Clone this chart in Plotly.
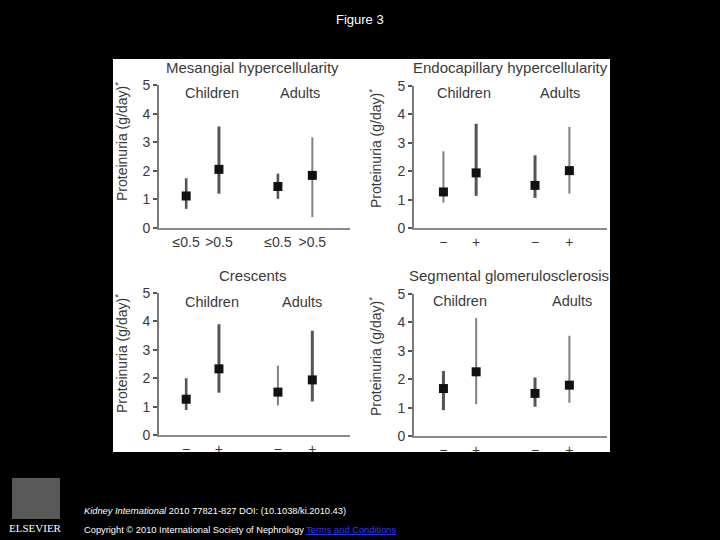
import plotly.graph_objects as go

W, H = 720, 540

# ---- data ----
groups = ["Children", "Children", "Adults", "Adults"]
panel_titles = ["Mesangial hypercellularity", "Endocapillary hypercellularity",
                "Crescents", "Segmental glomerulosclerosis"]
tick_labels = [["≤0.5", ">0.5", "≤0.5", ">0.5"],
               ["−", "+", "−", "+"],
               ["−", "+", "−", "+"],
               ["−", "+", "−", "+"]]
medians = [[1.12, 2.05, 1.45, 1.84],
           [1.27, 1.94, 1.50, 2.02],
           [1.26, 2.33, 1.51, 1.94],
           [1.67, 2.26, 1.50, 1.79]]
lows = [[0.67, 1.20, 1.02, 0.38],
        [0.89, 1.13, 1.06, 1.21],
        [0.88, 1.49, 1.04, 1.18],
        [0.91, 1.12, 1.03, 1.17]]
highs = [[1.74, 3.55, 1.90, 3.17],
         [2.70, 3.67, 2.56, 3.56],
         [2.00, 3.90, 2.44, 3.67],
         [2.29, 4.15, 2.06, 3.53]]
y_ticks = [0, 1, 2, 3, 4, 5]
y_title = "Proteinuria (g/day)<sup>*</sup>"

# ---- layout / style (pixel positions) ----
def fx(p):
    return p / W

def fy(p):
    return 1 - p / H

x_pos = [1, 2, 3.8, 4.85]
# (x0, x1, y_bottom, y_top) in pixels for each panel's axes
boxes = [(159, 350, 228, 85), (414, 607, 228, 86),
         (159, 350, 435, 293), (414, 607, 436, 294)]
x_ranges = [[0.17, 6.0], [0.1, 6.0], [0.17, 6.0], [0.1, 6.0]]
title_pos = [(253, 67), (510, 67), (253, 275), (509, 275)]
group_pos = [[(212, 93), (300, 93)], [(464, 93), (560, 93)],
             [(212, 302), (302, 302)], [(460, 301), (572, 301)]]
ytitle_pos = [(121, 142), (375, 149), (121, 354), (375, 357)]
# whisker look per point (thick dark vs thin light, as in the scan)
whisk_thick = [[2.6, 3.0, 2.6, 2.0], [2.0, 3.0, 3.0, 2.0],
               [2.6, 3.0, 2.0, 3.0], [3.0, 2.0, 3.0, 2.0]]

fig = go.Figure()
layout = {}
annotations = []
txt = "#3a3a3a"
font_fam = "Liberation Sans, Arial, sans-serif"


def note(text, px, py, size=14, color=txt, family=font_fam, **kw):
    d = dict(text=text, x=fx(px), y=fy(py), xref="paper", yref="paper",
             showarrow=False, xanchor="center", yanchor="middle",
             font=dict(size=size, color=color, family=family))
    d.update(kw)
    annotations.append(d)


for i in range(4):
    sx = "" if i == 0 else str(i + 1)
    for j in range(4):
        m = medians[i][j]
        t = whisk_thick[i][j]
        fig.add_trace(go.Scatter(
            x=[x_pos[j]], y=[m], mode="markers",
            xaxis="x" + sx, yaxis="y" + sx,
            marker=dict(symbol="square", size=9, color="#111111"),
            error_y=dict(type="data", symmetric=False,
                         array=[highs[i][j] - m],
                         arrayminus=[m - lows[i][j]],
                         color="#555555" if t >= 2.6 else "#808080",
                         thickness=t, width=0),
            showlegend=False, hoverinfo="skip"))
    x0, x1, yb, yt = boxes[i]
    layout["xaxis" + sx] = dict(
        domain=[fx(x0), fx(x1)], range=x_ranges[i], anchor="y" + sx,
        showgrid=False, zeroline=False, showline=True, linecolor="#8a8a8a",
        linewidth=2, ticks="", tickvals=x_pos, ticktext=tick_labels[i],
        tickfont=dict(size=14, color=txt, family=font_fam), fixedrange=True,
        automargin=False)
    layout["yaxis" + sx] = dict(
        domain=[fy(yb), fy(yt)], range=[0, 5], anchor="x" + sx,
        showgrid=False, zeroline=False, showline=True, linecolor="#7a7a7a",
        linewidth=2, ticks="outside", ticklen=4, tickwidth=1.5,
        tickcolor="#555555", tickvals=y_ticks,
        tickfont=dict(size=14, color=txt, family=font_fam), fixedrange=True,
        automargin=False)
    note(panel_titles[i], *title_pos[i], size=15)
    for g, (gx, gy) in zip(["Children", "Adults"], group_pos[i]):
        note(g, gx, gy, size=14.5)
    note(y_title, *ytitle_pos[i], textangle=-90)

# page texts
note("Figure 3", 360, 19, size=13, color="white")
note("<i>Kidney International</i> 2010 77821-827 DOI: (10.1038/ki.2010.43)",
     82, 511, size=9.3, color="white", xanchor="left")
note("Copyright © 2010 International Society of Nephrology "
     "<span style='color:#2a3cff'><u>Terms and Conditions</u></span>",
     82, 530, size=9.3, color="white", xanchor="left")
note("ELSEVIER", 35, 528, size=11, color="white",
     family="Liberation Serif, Times New Roman, serif")

shapes = [
    dict(type="rect", xref="paper", yref="paper", x0=fx(113), x1=fx(610),
         y0=fy(452), y1=fy(59), fillcolor="white", line=dict(width=0),
         layer="below"),
    # crop the figure at its lower edge
    dict(type="rect", xref="paper", yref="paper", x0=fx(100), x1=fx(620),
         y0=fy(540), y1=fy(452), fillcolor="black", line=dict(width=0),
         layer="above"),
    # stand-in for the publisher logo
    dict(type="rect", xref="paper", yref="paper", x0=fx(12), x1=fx(60),
         y0=fy(519), y1=fy(478), fillcolor="#6f6f6f", line=dict(width=0),
         layer="below", opacity=0.8),
]

fig.update_layout(
    width=W, height=H,
    margin=dict(l=0, r=0, t=0, b=0, pad=0, autoexpand=False),
    paper_bgcolor="black", plot_bgcolor="white",
    annotations=annotations, shapes=shapes, **layout)

fig.write_html("out.html")
